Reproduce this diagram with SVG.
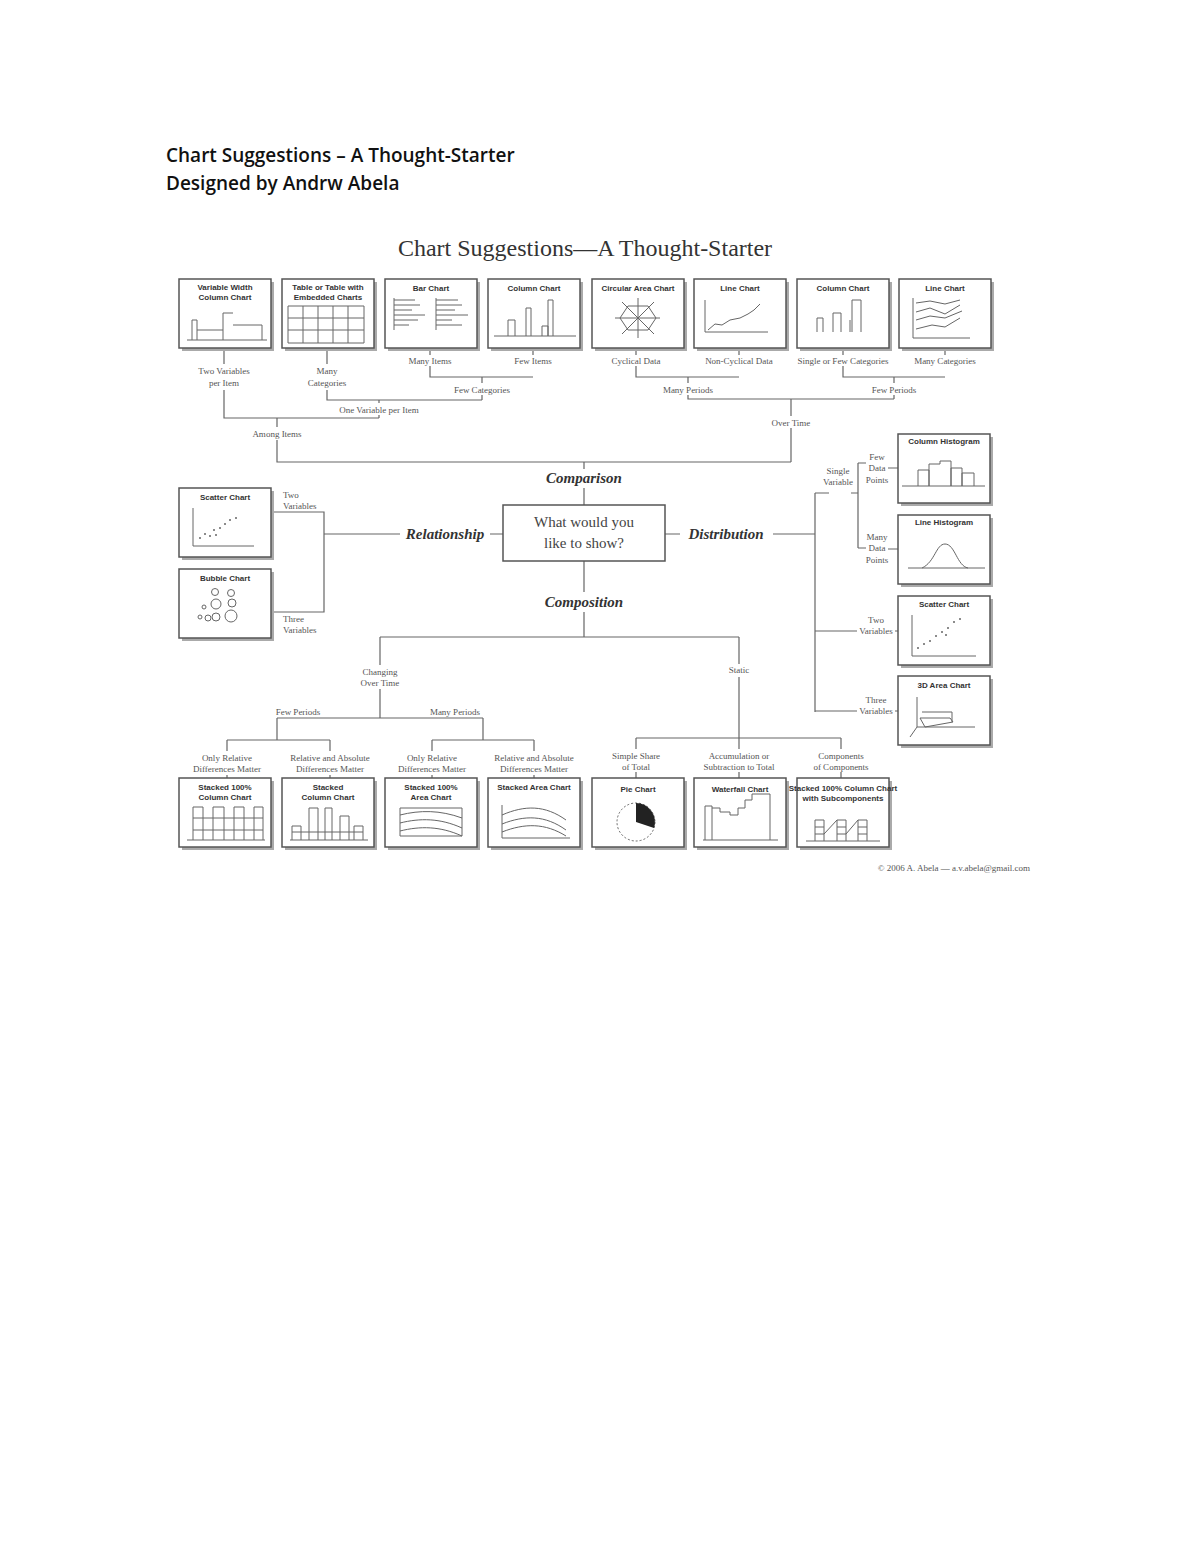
<svg xmlns="http://www.w3.org/2000/svg" width="1200" height="1553" viewBox="0 0 1200 1553">
<style>
.h{font-family:"Open Sans","Liberation Sans",sans-serif;font-size:19px;font-weight:600;fill:#111}
.t{font-family:"Liberation Serif",serif;font-size:24px;fill:#333}
.l{font-family:"Liberation Serif",serif;font-size:9px;fill:#555;text-anchor:middle}
.ll{font-family:"Liberation Serif",serif;font-size:9px;fill:#555}
.bt{font-family:"Liberation Sans",sans-serif;font-size:8px;fill:#333;text-anchor:middle;font-weight:bold}
.m{font-family:"Liberation Serif",serif;font-size:15px;font-style:italic;font-weight:bold;fill:#333;text-anchor:middle}
.q{font-family:"Liberation Serif",serif;font-size:15px;fill:#444;text-anchor:middle}
.bx{fill:#fff;stroke:#555;stroke-width:1.5}
.sh{fill:#aaa}
.c{fill:none;stroke:#666;stroke-width:1.2}
.g{fill:none;stroke:#666;stroke-width:1}
</style>
<rect width="1200" height="1553" fill="#fff"/>
<text class="h" x="166" y="162">Chart Suggestions – A Thought-Starter</text>
<text class="h" x="166" y="190">Designed by Andrw Abela</text>
<text class="t" x="585" y="256" text-anchor="middle">Chart Suggestions—A Thought-Starter</text>

<g id="connectors" class="c">
<path d="M224 348V364M224 390V418H379M327 348V364M327 390V400H482M430 348V355M533 348V355M430 366V377H533M482 377V383M482 395V400M379 400V403M379 415V418M277 418V427M277 440V462H791"/>
<path d="M636 348V355M739 348V355M636 366V377H739M688 377V383M843 348V355M945 348V355M843 366V377H945M894 377V383M688 395V399H894M894 395V399M791 399V416M791 428V462M584 462V469M584 488V505"/>
<path d="M584 561V592M584 612V637M380 637H739M380 637V665M380 689V718M277 718H483M277 718V740M227 740H330M227 740V751M330 740V751M483 718V740M432 740H534M432 740V751M534 740V751"/>
<path d="M227 775V778M330 775V778M432 775V778M534 775V778M739 637V664M739 677V738M636 738H841M636 738V749M739 738V749M841 738V749M636 772V778M739 772V778M841 772V778"/>
<path d="M324 534H400M490 534H503M271 512H324V612H271M665 534H680M773 534H815M815 493V712M815 493H829M858 463V548M851 493H858M858 463H866M888 468H898M858 548H866M888 549H898M815 631H857M895 631H898M815 711H857M895 711H898"/>
</g>

<g id="q"><rect x="503" y="505" width="162" height="56" fill="#fff" stroke="#555" stroke-width="1.5"/><text class="q" x="584" y="527">What would you</text><text class="q" x="584" y="548">like to show?</text></g>
<text class="m" x="584" y="483">Comparison</text>
<text class="m" x="584" y="607">Composition</text>
<text class="m" x="445" y="539">Relationship</text>
<text class="m" x="726" y="539">Distribution</text>

<g id="labels">
<text class="l" x="224" y="374">Two Variables</text><text class="l" x="224" y="386">per Item</text>
<text class="l" x="327" y="374">Many</text><text class="l" x="327" y="386">Categories</text>
<text class="l" x="430" y="364">Many Items</text><text class="l" x="533" y="364">Few Items</text>
<text class="l" x="482" y="393">Few Categories</text>
<text class="l" x="379" y="413">One Variable per Item</text>
<text class="l" x="277" y="437">Among Items</text>
<text class="l" x="636" y="364">Cyclical Data</text><text class="l" x="739" y="364">Non-Cyclical Data</text>
<text class="l" x="843" y="364">Single or Few Categories</text><text class="l" x="945" y="364">Many Categories</text>
<text class="l" x="688" y="393">Many Periods</text><text class="l" x="894" y="393">Few Periods</text>
<text class="l" x="791" y="426">Over Time</text>
<text class="ll" x="283" y="498">Two</text><text class="ll" x="283" y="509">Variables</text>
<text class="ll" x="283" y="622">Three</text><text class="ll" x="283" y="633">Variables</text>
<text class="l" x="838" y="474">Single</text><text class="l" x="838" y="485">Variable</text>
<text class="l" x="877" y="460">Few</text><text class="l" x="877" y="471">Data</text><text class="l" x="877" y="483">Points</text>
<text class="l" x="877" y="540">Many</text><text class="l" x="877" y="551">Data</text><text class="l" x="877" y="563">Points</text>
<text class="l" x="876" y="623">Two</text><text class="l" x="876" y="634">Variables</text>
<text class="l" x="876" y="703">Three</text><text class="l" x="876" y="714">Variables</text>
<text class="l" x="380" y="675">Changing</text><text class="l" x="380" y="686">Over Time</text>
<text class="l" x="739" y="673">Static</text>
<text class="l" x="298" y="715">Few Periods</text><text class="l" x="455" y="715">Many Periods</text>
<text class="l" x="227" y="761">Only Relative</text><text class="l" x="227" y="772">Differences Matter</text>
<text class="l" x="330" y="761">Relative and Absolute</text><text class="l" x="330" y="772">Differences Matter</text>
<text class="l" x="432" y="761">Only Relative</text><text class="l" x="432" y="772">Differences Matter</text>
<text class="l" x="534" y="761">Relative and Absolute</text><text class="l" x="534" y="772">Differences Matter</text>
<text class="l" x="636" y="759">Simple Share</text><text class="l" x="636" y="770">of Total</text>
<text class="l" x="739" y="759">Accumulation or</text><text class="l" x="739" y="770">Subtraction to Total</text>
<text class="l" x="841" y="759">Components</text><text class="l" x="841" y="770">of Components</text>
<text class="ll" x="1030" y="871" text-anchor="end">© 2006 A. Abela — a.v.abela@gmail.com</text>
</g>

<g id="n1"><rect class="sh" x="182" y="282" width="92" height="69"/><rect class="bx" x="179" y="279" width="92" height="69"/><text class="bt" x="225" y="290">Variable Width</text><text class="bt" x="225" y="300">Column Chart</text><path class="g" d="M187 340H267M192 340V320H197V340M197 330H223M223 340V313H233M233 325H262V340"/></g>
<g id="n2"><rect class="sh" x="285" y="282" width="92" height="69"/><rect class="bx" x="282" y="279" width="92" height="69"/><text class="bt" x="328" y="290">Table or Table with</text><text class="bt" x="328" y="300">Embedded Charts</text><path class="g" d="M288 306H364V343H288ZM288 318H364M288 330H364M303 306V343M318 306V343M333 306V343M348 306V343"/></g>
<g id="n3"><rect class="sh" x="388" y="282" width="92" height="69"/><rect class="bx" x="385" y="279" width="92" height="69"/><text class="bt" x="431" y="291">Bar Chart</text><path class="g" d="M394 298V330M394 300H415M394 305H420M394 310H412M394 315H425M394 320H418M394 325H409M436 298V330M436 300H458M436 305H462M436 310H455M436 315H468M436 320H452M436 325H462"/></g>
<g id="n4"><rect class="sh" x="491" y="282" width="92" height="69"/><rect class="bx" x="488" y="279" width="92" height="69"/><text class="bt" x="534" y="291">Column Chart</text><path class="g" d="M494 336H576M508 336V320H515V336M526 336V308H531V336M542 336V326H548V336M548 336V300H553V336"/></g>
<g id="n5"><rect class="sh" x="595" y="282" width="92" height="69"/><rect class="bx" x="592" y="279" width="92" height="69"/><text class="bt" x="638" y="291">Circular Area Chart</text><path class="g" d="M615 318H660M638 298V338M622 302L654 334M622 334L654 302M628 306L648 306L656 318L648 330L628 330L620 318Z"/></g>
<g id="n6"><rect class="sh" x="697" y="282" width="92" height="69"/><rect class="bx" x="694" y="279" width="92" height="69"/><text class="bt" x="740" y="291">Line Chart</text><path class="g" d="M705 300V332H768M708 330L715 324L722 325L730 320L740 318L748 314L754 310L760 304"/></g>
<g id="n7"><rect class="sh" x="800" y="282" width="92" height="69"/><rect class="bx" x="797" y="279" width="92" height="69"/><text class="bt" x="843" y="291">Column Chart</text><path class="g" d="M817 332V318H823V332M833 332V313H841V332M852 332V300H861V332M850 332V320"/></g>
<g id="n8"><rect class="sh" x="902" y="282" width="92" height="69"/><rect class="bx" x="899" y="279" width="92" height="69"/><text class="bt" x="945" y="291">Line Chart</text><path class="g" d="M913 298V338H970M916 303L930 301L945 304L960 300M916 312L930 308L945 314L960 305M916 320L930 316L945 318L962 311M916 329L932 325L945 327L960 318"/></g>

<g id="n9"><rect class="sh" x="182" y="491" width="92" height="69"/><rect class="bx" x="179" y="488" width="92" height="69"/><text class="bt" x="225" y="500">Scatter Chart</text><path class="g" d="M193 508V546H254"/><g fill="#666"><circle cx="200" cy="538" r="1"/><circle cx="205" cy="534" r="1"/><circle cx="210" cy="536" r="1"/><circle cx="214" cy="530" r="1"/><circle cx="220" cy="528" r="1"/><circle cx="225" cy="524" r="1"/><circle cx="230" cy="520" r="1"/><circle cx="236" cy="518" r="1"/><circle cx="216" cy="535" r="1"/></g></g>
<g id="n10"><rect class="sh" x="182" y="572" width="92" height="69"/><rect class="bx" x="179" y="569" width="92" height="69"/><text class="bt" x="225" y="581">Bubble Chart</text><g class="g"><circle cx="215" cy="592" r="3.5"/><circle cx="231" cy="593" r="3.5"/><circle cx="216" cy="604" r="5"/><circle cx="232" cy="603" r="4"/><circle cx="204" cy="607" r="2"/><circle cx="200" cy="617" r="2"/><circle cx="208" cy="618" r="3"/><circle cx="216" cy="617" r="4"/><circle cx="231" cy="616" r="6"/></g></g>

<g id="n11"><rect class="sh" x="901" y="437" width="92" height="69"/><rect class="bx" x="898" y="434" width="92" height="69"/><text class="bt" x="944" y="444">Column Histogram</text><path class="g" d="M902 486H985M918 486V470H929V486M929 486V464H940V461H951V486M951 486V468H962V486M962 486V473H974V486"/></g>
<g id="n12"><rect class="sh" x="901" y="518" width="92" height="69"/><rect class="bx" x="898" y="515" width="92" height="69"/><text class="bt" x="944" y="525">Line Histogram</text><path class="g" d="M908 568H985M922 568C935 562 936 544 945 544C955 544 957 566 968 568"/></g>
<g id="n13"><rect class="sh" x="901" y="599" width="92" height="69"/><rect class="bx" x="898" y="596" width="92" height="69"/><text class="bt" x="944" y="607">Scatter Chart</text><path class="g" d="M912 615V656H976"/><g fill="#666"><circle cx="918" cy="648" r="1"/><circle cx="924" cy="644" r="1"/><circle cx="930" cy="641" r="1"/><circle cx="936" cy="636" r="1"/><circle cx="942" cy="632" r="1"/><circle cx="948" cy="628" r="1"/><circle cx="954" cy="622" r="1"/><circle cx="960" cy="619" r="1"/><circle cx="946" cy="635" r="1"/></g></g>
<g id="n14"><rect class="sh" x="901" y="679" width="92" height="69"/><rect class="bx" x="898" y="676" width="92" height="69"/><text class="bt" x="944" y="688">3D Area Chart</text><path class="g" d="M917 697V727M910 737L917 727M917 727H975M920 718H950L953 722L925 727ZM922 712H952V722"/></g>

<g id="n15"><rect class="sh" x="182" y="781" width="92" height="69"/><rect class="bx" x="179" y="778" width="92" height="69"/><text class="bt" x="225" y="790">Stacked 100%</text><text class="bt" x="225" y="800">Column Chart</text><path class="g" d="M187 840H265M193 840V807H203V840M213 840V807H224V840M234 840V807H244V840M254 840V807H263V840M193 818H263M193 830H263"/></g>
<g id="n16"><rect class="sh" x="285" y="781" width="92" height="69"/><rect class="bx" x="282" y="778" width="92" height="69"/><text class="bt" x="328" y="790">Stacked</text><text class="bt" x="328" y="800">Column Chart</text><path class="g" d="M290 840H368M292 840V826H301V840M309 840V808H318V840M325 840V808H332V840M340 840V816H349V840M354 840V826H363V840M292 832H363"/></g>
<g id="n17"><rect class="sh" x="388" y="781" width="92" height="69"/><rect class="bx" x="385" y="778" width="92" height="69"/><text class="bt" x="431" y="790">Stacked 100%</text><text class="bt" x="431" y="800">Area Chart</text><path class="g" d="M400 808V836H462V808H400M400 815C420 810 440 810 462 818M400 823C420 818 440 818 462 828M400 831C420 826 440 826 462 836"/></g>
<g id="n18"><rect class="sh" x="491" y="781" width="92" height="69"/><rect class="bx" x="488" y="778" width="92" height="69"/><text class="bt" x="534" y="790">Stacked Area Chart</text><path class="g" d="M502 805V838H570M502 815C525 805 545 805 566 820M502 824C525 815 545 815 566 830M502 832C525 823 545 823 566 836"/></g>
<g id="n19"><rect class="sh" x="595" y="781" width="92" height="69"/><rect class="bx" x="592" y="778" width="92" height="69"/><text class="bt" x="638" y="792">Pie Chart</text><circle cx="636" cy="822" r="19" fill="none" stroke="#666" stroke-dasharray="2,2"/><path d="M636 822L636 803A19 19 0 0 1 654 828Z" fill="#222"/></g>
<g id="n20"><rect class="sh" x="697" y="781" width="92" height="69"/><rect class="bx" x="694" y="778" width="92" height="69"/><text class="bt" x="740" y="792">Waterfall Chart</text><path class="g" d="M703 840H778M705 840V806H712V840M712 808H720V812H730V815H738V808H745V800H752V794H770V840" fill="#ccc"/></g>
<g id="n21"><rect class="sh" x="800" y="781" width="92" height="69"/><rect class="bx" x="797" y="778" width="92" height="69"/><text class="bt" x="843" y="791" font-size="7">Stacked 100% Column Chart</text><text class="bt" x="843" y="801" font-size="7">with Subcomponents</text><path class="g" d="M806 841H880M815 841V820H824V841M837 841V820H846V841M858 841V820H867V841M815 827H824M815 834H824M837 827H846M837 834H846M858 827H867M858 834H867M824 834L837 820M846 834L858 820"/></g>
</svg>
